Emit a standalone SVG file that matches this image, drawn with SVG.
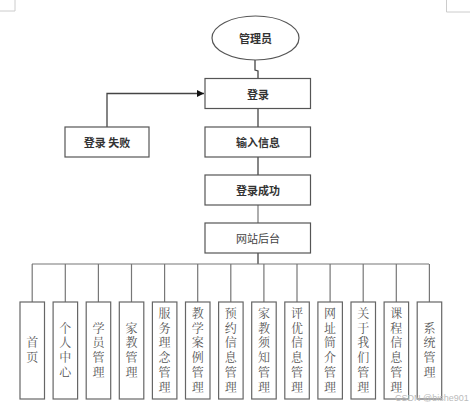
<svg xmlns="http://www.w3.org/2000/svg" width="474" height="408" viewBox="0 0 474 408">
<style>
.box{fill:#fff;stroke:#555;stroke-width:1.2}
.lbl{font-family:"Noto Sans CJK SC","Liberation Sans",sans-serif;font-size:11px;font-weight:bold;fill:#333;text-anchor:middle;dominant-baseline:central}
.leaf{fill:#fff;stroke:#666;stroke-width:1.2}
.lt{font-family:"Noto Serif CJK SC","Noto Sans CJK SC",serif;font-size:12px;fill:#555;text-anchor:middle;writing-mode:vertical-rl;letter-spacing:2.7px}
.ln{fill:none;stroke:#444;stroke-width:1.3}
.ln2{fill:none;stroke:#777;stroke-width:1.2}
.corner{fill:none;stroke:#ccc;stroke-width:1}
</style>
<defs>
<marker id="arr" markerWidth="8" markerHeight="8" refX="7" refY="4" orient="auto" markerUnits="userSpaceOnUse">
<path d="M0,0.5 L7,4 L0,7.5 Z" fill="#111"/>
</marker>
</defs>
<rect width="474" height="408" fill="#fff"/>
<path class="corner" d="M15,0 V11 H0 M446.5,0 V12 H470"/>
<g id="connectors">
<path class="ln" d="M255,60 V70 L258,71 V78"/>
<path class="ln" d="M107,127 V93.5 H204" marker-end="url(#arr)"/>
<path class="ln" d="M258,108.5 V127"/>
<path class="ln" d="M258,157 V175"/>
<path class="ln2" d="M258,205 V223"/>
<path class="ln" d="M258,253 V264"/>
<path class="ln2" d="M32,264 H429"/>
<path class="ln2" d="M32.2,264V302 M65.3,264V302 M98.4,264V302 M131.5,264V302 M164.6,264V302 M197.7,264V302 M230.8,264V302 M263.9,264V302 M297,264V302 M330.1,264V302 M363.2,264V302 M396.3,264V302 M429.4,264V302"/>
</g>
<g id="n-admin"><ellipse cx="255.5" cy="38" rx="43.5" ry="22" class="box"/><text class="lbl" x="255.5" y="38">管理员</text></g>
<g id="n-login"><rect class="box" x="205" y="78.5" width="105.5" height="30"/><text class="lbl" x="258" y="93.5">登录</text></g>
<g id="n-fail"><rect class="box" x="65" y="127" width="84" height="30"/><text class="lbl" x="107" y="142">登录 失败</text></g>
<g id="n-input"><rect class="box" x="205" y="127" width="105.5" height="30"/><text class="lbl" x="258" y="142">输入信息</text></g>
<g id="n-ok"><rect class="box" x="205" y="175" width="105.5" height="30"/><text class="lbl" x="258" y="190">登录成功</text></g>
<g id="n-back"><rect class="box" x="205" y="223" width="105.5" height="30"/><text class="lbl" x="258" y="238" style="font-weight:normal;fill:#444">网站后台</text></g>
<g id="l1"><rect class="leaf" x="20" y="302" width="24.5" height="97"/><text class="lt" x="32.2" y="351.6">首页</text></g>
<g id="l2"><rect class="leaf" x="53.1" y="302" width="24.5" height="97"/><text class="lt" x="65.3" y="351.6">个人中心</text></g>
<g id="l3"><rect class="leaf" x="86.2" y="302" width="24.5" height="97"/><text class="lt" x="98.4" y="351.6">学员管理</text></g>
<g id="l4"><rect class="leaf" x="119.3" y="302" width="24.5" height="97"/><text class="lt" x="131.5" y="351.6">家教管理</text></g>
<g id="l5"><rect class="leaf" x="152.4" y="302" width="24.5" height="97"/><text class="lt" x="164.6" y="351.6">服务理念管理</text></g>
<g id="l6"><rect class="leaf" x="185.5" y="302" width="24.5" height="97"/><text class="lt" x="197.7" y="351.6">教学案例管理</text></g>
<g id="l7"><rect class="leaf" x="218.6" y="302" width="24.5" height="97"/><text class="lt" x="230.8" y="351.6">预约信息管理</text></g>
<g id="l8"><rect class="leaf" x="251.7" y="302" width="24.5" height="97"/><text class="lt" x="263.9" y="351.6">家教须知管理</text></g>
<g id="l9"><rect class="leaf" x="284.8" y="302" width="24.5" height="97"/><text class="lt" x="297" y="351.6">评优信息管理</text></g>
<g id="l10"><rect class="leaf" x="317.9" y="302" width="24.5" height="97"/><text class="lt" x="330.1" y="351.6">网址简介管理</text></g>
<g id="l11"><rect class="leaf" x="351" y="302" width="24.5" height="97"/><text class="lt" x="363.2" y="351.6">关于我们管理</text></g>
<g id="l12"><rect class="leaf" x="384.1" y="302" width="24.5" height="97"/><text class="lt" x="396.3" y="351.6">课程信息管理</text></g>
<g id="l13"><rect class="leaf" x="417.2" y="302" width="24.5" height="97"/><text class="lt" x="429.4" y="351.6">系统管理</text></g>
<text x="395" y="398" font-family="Liberation Sans, sans-serif" font-size="9" fill="#bbb" dominant-baseline="central">CSDN @bishe901</text>
</svg>
